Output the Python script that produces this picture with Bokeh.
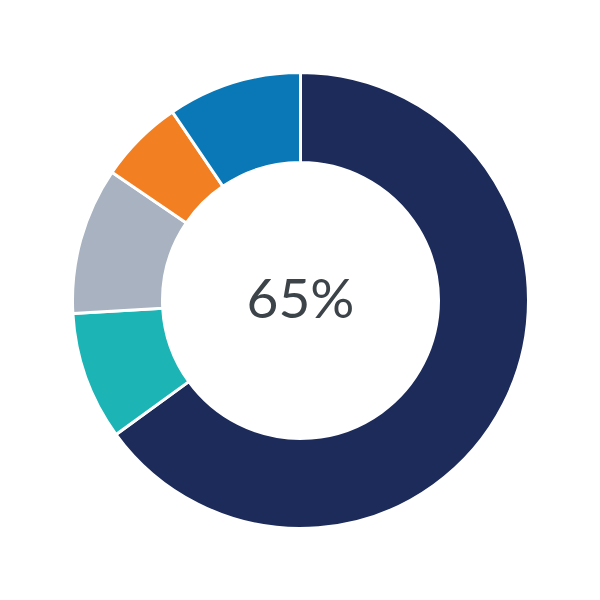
import numpy as np
from bokeh.core.properties import value
from bokeh.embed import file_html
from bokeh.models import ColumnDataSource
from bokeh.plotting import figure
from bokeh.resources import INLINE

# share of each slice, clockwise from 12 o'clock
labels = ["Main", "Teal", "Grey", "Orange", "Blue"]
shares = [65.0, 9.1, 10.4, 6.0, 9.5]
colors = ["#1c2b5a", "#1db4b6", "#a8b2c1", "#f27f22", "#0a78b6"]
center_label = "65%"

frac = np.array(shares) / sum(shares)
ends = np.cumsum(frac)
starts = ends - frac
source = ColumnDataSource(dict(
    label=labels,
    color=colors,
    start=np.pi / 2 - 2 * np.pi * starts,
    end=np.pi / 2 - 2 * np.pi * ends,
))

# ranges in pixel units, donut centred at (300, 300) of the page
p = figure(width=584, height=584, x_range=(-300, 284), y_range=(-284, 300),
           output_backend="svg", toolbar_location=None, min_border=0)
p.annular_wedge(x=0, y=0, inner_radius=138, outer_radius=228,
                start_angle="start", end_angle="end", direction="clock",
                fill_color="color", line_color="white", line_width=3,
                source=source)
p.text(x=[0], y=[4], text=[center_label], text_align="center",
       text_baseline="middle", text_font=value("Lato"),
       text_font_size="55px", text_color="#3d4449")

p.axis.visible = False
p.grid.visible = False
p.outline_line_color = None

open("out.html", "w").write(file_html(p, INLINE))
